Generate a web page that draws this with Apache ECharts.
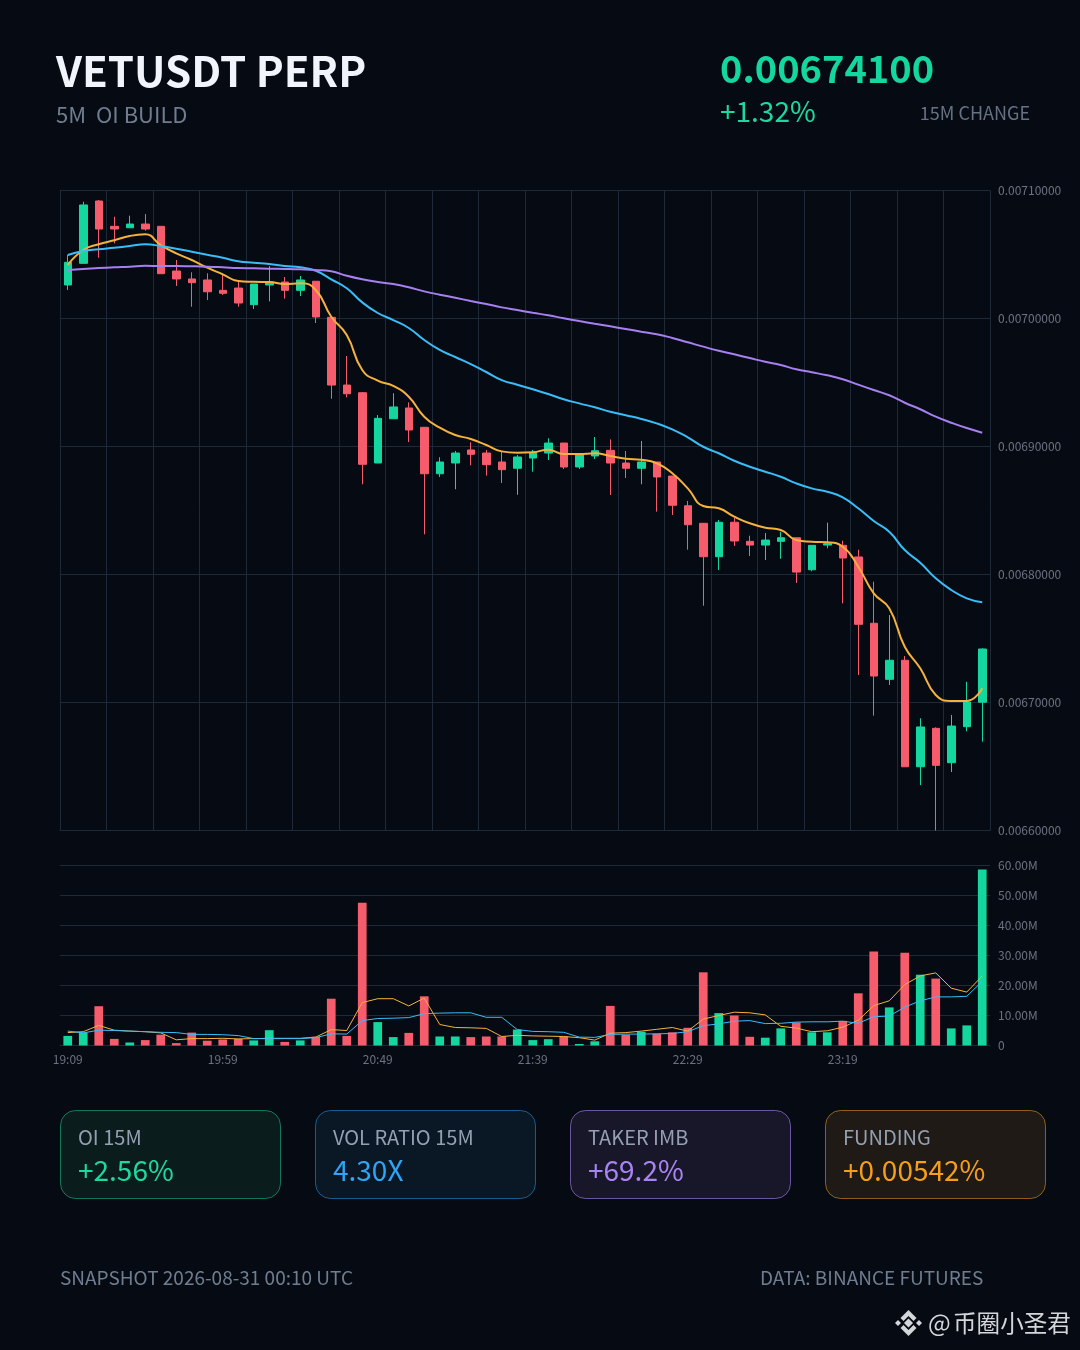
<!DOCTYPE html>
<html>
<head>
<meta charset="utf-8">
<style>html,body{margin:0;padding:0;background:#060b13}#c{width:1080px;height:1350px}</style>
<script src="https://cdn.jsdelivr.net/npm/echarts@6/dist/echarts.min.js"></script>
</head>
<body>
<div id="c"></div>
<script>
const times = ["19:09","19:14","19:19","19:24","19:29","19:34","19:39","19:44","19:49","19:54",
"19:59","20:04","20:09","20:14","20:19","20:24","20:29","20:34","20:39","20:44",
"20:49","20:54","20:59","21:04","21:09","21:14","21:19","21:24","21:29","21:34",
"21:39","21:44","21:49","21:54","21:59","22:04","22:09","22:14","22:19","22:24",
"22:29","22:34","22:39","22:44","22:49","22:54","22:59","23:04","23:09","23:14",
"23:19","23:24","23:29","23:34","23:39","23:44","23:49","23:54","23:59","00:04"];
const opens = [0.0070262,0.0070431,0.0070918,0.0070720,0.0070709,0.0070738,0.0070720,0.0070371,0.0070309,0.0070301,
0.0070220,0.0070238,0.0070108,0.0070262,0.0070285,0.0070220,0.0070291,0.0070009,0.0069480,0.0069420,
0.0068871,0.0069217,0.0069301,0.0069150,0.0068787,0.0068871,0.0068973,0.0068949,0.0068879,0.0068830,
0.0068910,0.0068949,0.0069027,0.0068840,0.0068926,0.0068970,0.0068871,0.0068830,0.0068879,0.0068769,
0.0068537,0.0068400,0.0068139,0.0068408,0.0068259,0.0068230,0.0068259,0.0068287,0.0068037,0.0068230,
0.0068228,0.0068137,0.0067619,0.0067181,0.0067330,0.0066498,0.0066798,0.0066530,0.0066811,0.0067002];
const closes = [0.0070439,0.0070887,0.0070699,0.0070699,0.0070738,0.0070699,0.0070350,0.0070309,0.0070280,0.0070209,
0.0070197,0.0070121,0.0070269,0.0070285,0.0070220,0.0070301,0.0070012,0.0069480,0.0069412,0.0068861,
0.0069220,0.0069309,0.0069129,0.0068787,0.0068879,0.0068949,0.0068939,0.0068858,0.0068819,0.0068918,
0.0068952,0.0069027,0.0068840,0.0068934,0.0068967,0.0068871,0.0068830,0.0068879,0.0068762,0.0068541,
0.0068389,0.0068139,0.0068408,0.0068262,0.0068230,0.0068269,0.0068287,0.0068019,0.0068228,0.0068241,
0.0068129,0.0067611,0.0067207,0.0067330,0.0066498,0.0066809,0.0066509,0.0066816,0.0067004,0.0067418];
const lows = [0.0070223,0.0070431,0.0070475,0.0070587,0.0070709,0.0070686,0.0070350,0.0070254,0.0070092,0.0070144,
0.0070184,0.0070092,0.0070074,0.0070134,0.0070155,0.0070176,0.0069965,0.0069373,0.0069384,0.0068705,
0.0068871,0.0069217,0.0069035,0.0068314,0.0068762,0.0068666,0.0068853,0.0068772,0.0068715,0.0068623,
0.0068803,0.0068894,0.0068824,0.0068824,0.0068902,0.0068621,0.0068754,0.0068705,0.0068491,0.0068465,
0.0068194,0.0067756,0.0068035,0.0068223,0.0068144,0.0068113,0.0068123,0.0067934,0.0068025,0.0068205,
0.0067775,0.0067215,0.0066897,0.0067137,0.0066498,0.0066355,0.0066000,0.0066457,0.0066775,0.0066694];
const highs = [0.0070496,0.0070912,0.0070926,0.0070795,0.0070803,0.0070816,0.0070720,0.0070457,0.0070361,0.0070353,
0.0070353,0.0070301,0.0070269,0.0070410,0.0070324,0.0070332,0.0070291,0.0070012,0.0069707,0.0069426,
0.0069246,0.0069416,0.0069345,0.0069150,0.0068916,0.0068965,0.0069033,0.0068973,0.0068965,0.0068934,
0.0068973,0.0069064,0.0069027,0.0068934,0.0069074,0.0069056,0.0068965,0.0069043,0.0068879,0.0068769,
0.0068574,0.0068400,0.0068426,0.0068444,0.0068303,0.0068324,0.0068334,0.0068287,0.0068228,0.0068405,
0.0068264,0.0068194,0.0067944,0.0067684,0.0067363,0.0066877,0.0066806,0.0066902,0.0067162,0.0067423];
const maFast = [0.0070418,0.0070535,0.0070580,0.0070611,0.0070645,0.0070658,0.0070574,0.0070509,0.0070457,0.0070397,
0.0070345,0.0070293,0.0070287,0.0070285,0.0070269,0.0070275,0.0070223,0.0070014,0.0069871,0.0069598,
0.0069514,0.0069473,0.0069389,0.0069233,0.0069147,0.0069090,0.0069059,0.0069012,0.0068962,0.0068952,
0.0068955,0.0068975,0.0068941,0.0068941,0.0068947,0.0068926,0.0068905,0.0068897,0.0068869,0.0068791,
0.0068673,0.0068535,0.0068517,0.0068452,0.0068400,0.0068366,0.0068348,0.0068269,0.0068256,0.0068252,
0.0068217,0.0068061,0.0067853,0.0067736,0.0067436,0.0067267,0.0067059,0.0067012,0.0067012,0.0067111];
const maMid = [0.0070496,0.0070527,0.0070541,0.0070553,0.0070566,0.0070580,0.0070566,0.0070545,0.0070522,0.0070498,
0.0070475,0.0070447,0.0070436,0.0070426,0.0070410,0.0070400,0.0070373,0.0070306,0.0070236,0.0070126,
0.0070043,0.0069988,0.0069926,0.0069832,0.0069754,0.0069699,0.0069644,0.0069582,0.0069519,0.0069483,
0.0069447,0.0069410,0.0069369,0.0069337,0.0069306,0.0069272,0.0069244,0.0069215,0.0069181,0.0069134,
0.0069072,0.0068998,0.0068947,0.0068889,0.0068842,0.0068803,0.0068764,0.0068712,0.0068673,0.0068647,
0.0068603,0.0068517,0.0068418,0.0068334,0.0068191,0.0068092,0.0067970,0.0067879,0.0067814,0.0067783];
const maSlow = [0.0070379,0.0070387,0.0070394,0.0070400,0.0070405,0.0070412,0.0070410,0.0070410,0.0070408,0.0070405,
0.0070400,0.0070394,0.0070392,0.0070389,0.0070387,0.0070384,0.0070379,0.0070369,0.0070334,0.0070306,
0.0070285,0.0070269,0.0070244,0.0070212,0.0070186,0.0070162,0.0070137,0.0070113,0.0070087,0.0070066,
0.0070045,0.0070025,0.0070002,0.0069980,0.0069959,0.0069939,0.0069918,0.0069897,0.0069877,0.0069848,
0.0069814,0.0069780,0.0069748,0.0069720,0.0069691,0.0069662,0.0069637,0.0069603,0.0069580,0.0069556,
0.0069525,0.0069483,0.0069441,0.0069400,0.0069342,0.0069291,0.0069233,0.0069186,0.0069144,0.0069108];
const volumes = [3.2,4.3,13.1,2.2,1.0,1.8,3.6,0.8,4.3,1.6,
2.0,2.2,1.7,5.1,1.2,1.7,2.9,15.6,3.2,47.6,
7.8,2.8,4.2,16.4,3.0,3.0,2.8,3.0,3.0,5.3,
1.8,2.1,3.0,0.5,1.4,13.2,3.6,4.6,3.9,4.4,
5.9,24.4,10.8,10.0,2.9,2.6,5.7,7.7,4.4,4.4,
8.2,17.4,31.3,12.7,30.9,23.6,22.3,5.7,6.7,58.7];
const volFast = [4.3,4.6,6.7,5.1,4.8,4.6,4.2,1.9,2.3,2.3,
2.4,2.2,2.3,2.4,2.4,2.4,2.8,5.3,5.0,14.3,
15.6,15.6,13.2,15.8,7.0,6.0,5.9,5.7,3.0,3.4,
3.2,3.1,3.0,2.6,1.8,4.1,4.3,4.8,5.4,6.0,
4.8,8.8,10.0,11.1,10.9,10.2,6.4,5.8,4.6,4.9,
6.1,8.4,13.3,14.9,20.3,23.2,24.2,19.1,17.8,23.2];
const volSlow = [4.8,4.2,5.1,5.0,4.8,4.6,4.4,4.3,3.7,3.7,
3.6,3.3,2.3,2.3,2.3,2.3,2.6,3.9,3.8,8.3,
9.0,9.1,9.3,10.6,10.8,10.9,10.9,9.4,9.4,5.3,
4.7,4.6,4.4,2.8,2.7,3.7,3.8,3.8,3.9,4.0,
4.6,6.6,7.2,8.1,8.3,7.3,7.4,7.8,7.9,7.9,
8.1,7.4,9.6,9.8,12.8,14.9,16.2,16.2,16.4,21.4];
const stats = [
 {label:"OI 15M", value:"+2.56%", color:"#1fd8a0", fill:"#0b1c1d", border:"rgba(24,200,150,0.55)"},
 {label:"VOL RATIO 15M", value:"4.30X", color:"#2ea5f5", fill:"#0a1826", border:"rgba(40,140,220,0.6)"},
 {label:"TAKER IMB", value:"+69.2%", color:"#a884f3", fill:"#181629", border:"rgba(168,132,243,0.6)"},
 {label:"FUNDING", value:"+0.00542%", color:"#f59e1c", fill:"#1f1a15", border:"rgba(245,158,28,0.55)"}
];

const UP="#14d79f", DOWN="#f75c6c", GRID="#1e2a3a", AXIS="#6b7280";
const FONT='"Noto Sans CJK SC","Noto Sans",sans-serif';
const ORANGE="#f5b13d", BLUE="#38bdf8", PURPLE="#a67ff0";

function txt(text,x,y,size,fill,weight,align){
  return {type:'text',silent:true,x:x,y:y,style:{text:text,fill:fill,font:(weight||400)+' '+size+'px '+FONT,textAlign:align||'left',textVerticalAlign:'middle'}};
}
const gfx=[
 txt("VETUSDT PERP",56,71,42,"#f1f5fb",700),
 txt("5M  OI BUILD",56,115,22,"#6f7d90"),
 txt("0.00674100",720,69,38,UP,700),
 txt("+1.32%",720,111,28,"#1fd8a0"),
 txt("15M CHANGE",1030,113,18,"#667284",400,'right'),
 txt("SNAPSHOT 2026-08-31 00:10 UTC",60,1278,19,"#6f7d90"),
 txt("DATA: BINANCE FUTURES",760,1278,19,"#6f7d90"),
 txt("@",928,1323,24,"#d4d6d9"),
 txt("币圈小圣君",953,1323,23.6,"#d4d6d9")
];
stats.forEach((s,i)=>{
  const x=60+255*i;
  gfx.push({type:'rect',silent:true,shape:{x:x+0.5,y:1110.5,width:220,height:88,r:15},style:{fill:s.fill,stroke:s.border,lineWidth:1}});
  gfx.push(txt(s.label,x+18,1137,20,"#94a0b2"));
  gfx.push(txt(s.value,x+18,1170,28,s.color));
});
// Binance-style mark in the watermark
const LOGO="#d4d6d9";
[[[908.5,1318.5],[913,1323],[908.5,1327.5],[904,1323]]].forEach(p=>gfx.push({type:'polygon',silent:true,shape:{points:p},style:{fill:LOGO}}));
gfx.push({type:'polygon',silent:true,shape:{points:[[900.5,1318],[908.5,1310],[916.5,1318],[913.5,1321],[908.5,1316],[903.5,1321]]},style:{fill:LOGO}});
gfx.push({type:'polygon',silent:true,shape:{points:[[900.5,1328],[908.5,1336],[916.5,1328],[913.5,1325],[908.5,1330],[903.5,1325]]},style:{fill:LOGO}});
gfx.push({type:'polygon',silent:true,shape:{points:[[895,1323],[898,1320],[901,1323],[898,1326]]},style:{fill:LOGO}});
gfx.push({type:'polygon',silent:true,shape:{points:[[916,1323],[919,1320],[922,1323],[919,1326]]},style:{fill:LOGO}});

const chart=echarts.init(document.getElementById('c'),null,{renderer:'canvas',width:1080,height:1350});
const pl=(name,data,color,idx,w,extra)=>Object.assign({name:name,type:'line',data:data,xAxisIndex:idx,yAxisIndex:idx,symbol:'none',silent:true,lineStyle:{color:color,width:w},z:5},extra||{});
chart.setOption({
 animation:false,
 backgroundColor:"#060b13",
 textStyle:{fontFamily:FONT},
 grid:[
  {left:60,right:90,top:190.5,height:640},
  {left:60,right:90,top:865.5,height:180}
 ],
 xAxis:[
  {type:'category',gridIndex:0,data:times,boundaryGap:true,
   axisLine:{show:true,lineStyle:{color:GRID}},axisTick:{show:false},axisLabel:{show:false},
   splitLine:{show:true,interval:2,lineStyle:{color:GRID,width:1}}},
  {type:'category',gridIndex:1,data:times,boundaryGap:true,
   axisLine:{show:true,lineStyle:{color:GRID}},axisTick:{show:false},
   axisLabel:{interval:9,color:AXIS,fontSize:12,margin:8,fontFamily:FONT,showMinLabel:true},
   splitLine:{show:false}}
 ],
 yAxis:[
  {type:'value',gridIndex:0,position:'right',min:0.0066,max:0.0071,interval:0.0001,scale:true,
   axisLine:{show:false},axisTick:{show:false},
   axisLabel:{color:AXIS,fontSize:12,margin:8,fontFamily:FONT,formatter:v=>v.toFixed(8)},
   splitLine:{show:true,lineStyle:{color:GRID,width:1}}},
  {type:'value',gridIndex:1,position:'right',min:0,max:60,interval:10,
   axisLine:{show:false},axisTick:{show:false},
   axisLabel:{color:AXIS,fontSize:12,margin:8,fontFamily:FONT,formatter:v=>v===0?'0':v.toFixed(2)+'M'},
   splitLine:{show:true,lineStyle:{color:GRID,width:1}}}
 ],
 graphic:{elements:gfx},
 series:[
  {name:'Price',type:'candlestick',xAxisIndex:0,yAxisIndex:0,silent:true,barWidth:8,
   data:times.map((t,i)=>[opens[i],closes[i],lows[i],highs[i]]),
   itemStyle:{color:UP,color0:DOWN,borderColor:UP,borderColor0:DOWN,borderWidth:1},z:3},
  pl('MA fast',maFast,ORANGE,0,2,{smooth:true}),
  pl('MA mid',maMid,BLUE,0,2,{smooth:true}),
  pl('MA slow',maSlow,PURPLE,0,2,{smooth:true}),
  {name:'Volume',type:'bar',xAxisIndex:1,yAxisIndex:1,silent:true,barWidth:8.7,
   data:volumes.map((v,i)=>({value:v,itemStyle:{color:closes[i]>=opens[i]?UP:DOWN}})),z:3},
  pl('Vol fast',volFast,ORANGE,1,1,{opacity:.9}),
  pl('Vol slow',volSlow,BLUE,1,1)
 ]
});
</script>
</body>
</html>
